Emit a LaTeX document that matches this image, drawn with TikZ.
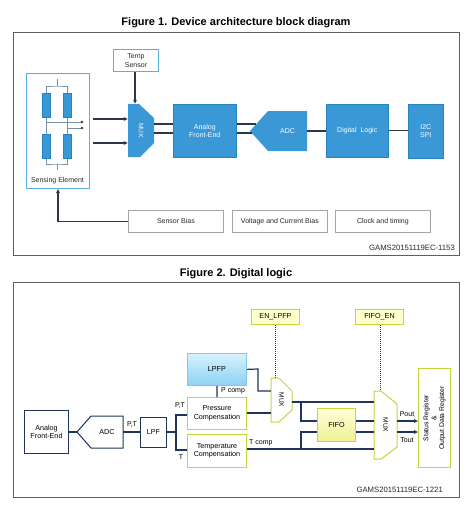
\documentclass[tikz,border=0pt]{standalone}
\usepackage{fontspec}
\setmainfont{Liberation Sans}
\usetikzlibrary{arrows.meta}
\definecolor{stblue}{RGB}{58,152,214}
\definecolor{stbluedk}{RGB}{40,130,190}
\definecolor{navy}{RGB}{31,52,90}
\definecolor{dline}{RGB}{45,55,72}
\definecolor{framec}{RGB}{95,95,95}
\definecolor{lgray}{RGB}{165,165,165}
\definecolor{tsb}{RGB}{90,175,225}
\definecolor{ygreen}{RGB}{196,214,60}
\definecolor{lyellow}{RGB}{255,255,204}
\definecolor{wirec}{RGB}{120,145,170}
\definecolor{txt}{RGB}{40,40,40}
\tikzset{
  x=1pt, y=-1pt,
  box/.style={anchor=north west, inner sep=0pt, align=center, font=\fontsize{7}{8.3}\selectfont, text=txt},
  titlet/.style={font=\bfseries\fontsize{11}{13}\selectfont},
  framebox/.style={box, draw=framec, line width=1pt},
  bluebox/.style={box, fill=stblue, draw=stbluedk, line width=0.5pt, text=white},
  outline/.style={box, draw=tsb, fill=white, line width=1pt},
  graybox/.style={box, draw=lgray, fill=white, line width=0.8pt},
  res/.style={box, fill=stblue, draw=stbluedk, line width=0.6pt},
  wire/.style={draw=wirec, line width=0.7pt},
  link1/.style={draw=dline, line width=1.3pt},
  arr1/.style={draw=dline, line width=1.1pt, -{Triangle[length=4pt,width=3.5pt]}},
  ybox/.style={box, draw=ygreen, fill=white, line width=1pt, text=black, font=\fontsize{7.2}{8.5}\selectfont},
  ylabel/.style={box, draw=ygreen, fill=lyellow, line width=1pt, text=black, font=\fontsize{7.2}{8.5}\selectfont},
  nbox/.style={box, draw=navy, fill=white, line width=1pt, text=black, font=\fontsize{7.2}{8.5}\selectfont},
  link2/.style={draw=navy, line width=1.2pt},
  arr2/.style={draw=navy, line width=1.2pt, -{Triangle[length=4pt,width=3.5pt]}},
  ctrl/.style={draw=navy, line width=1pt, densely dotted},
  lab/.style={inner sep=0pt, font=\fontsize{7}{8.3}\selectfont, text=black},
  muxt/.style={inner sep=0pt, rotate=-90, font=\fontsize{6.5}{7.5}\selectfont},
  code/.style={inner sep=0pt, anchor=east, font=\fontsize{7.7}{9}\selectfont, text=txt}
}
\begin{document}
\begin{tikzpicture}
\useasboundingbox (0,0) rectangle (474,515);
\fill[white] (0,0) rectangle (474,515);

% ================= Figure 1 =================
\node[titlet] (t1) at (236,23) {Figure 1. Device architecture block diagram};
\node[framebox, minimum width=446, minimum height=223] (f1) at (13,32) {};

\node[outline, minimum width=45, minimum height=22] (ts) at (113,49) {Temp\\Sensor};
\node[outline, minimum width=63, minimum height=115] (se) at (26,73) {};
\node[lab, text=txt] (selab) at (57.5,181) {Sensing Element};

% bridge
\node[res, minimum width=8, minimum height=24] (r1) at (42,93) {};
\node[res, minimum width=8, minimum height=24] (r2) at (63,93) {};
\node[res, minimum width=8, minimum height=24] (r3) at (42,134) {};
\node[res, minimum width=8, minimum height=24] (r4) at (63,134) {};
\coordinate (tp) at (57,86);
\coordinate (bp) at (57,164);
\coordinate (d1) at (82,122);
\coordinate (d2) at (82,128);
\draw[wire] (r1.north) |- (tp) -| (r2.north);
\draw[wire] (tp) -- ++(0,-7);
\draw[wire] (r3.south) |- (bp) -| (r4.south);
\draw[wire] (bp) -- ++(0,6);
\draw[wire] (r1.south) -- (r3.north);
\draw[wire] (r2.south) -- (r4.north);
\draw[wire] (r1.south |- d1) -- (d1);
\draw[wire] (r2.south |- d2) -- (d2);
\fill[dline] (d1) circle (1.3) (d2) circle (1.3);

% MUX 1
\fill[stblue] (128,104) -- (139,104) -- (154,118) -- (154,143) -- (140,157) -- (128,157) -- cycle;
\node[inner sep=0pt, minimum width=26, minimum height=53] (mux1) at (141,130.5) {};
\node[muxt, text=white] (mux1t) at (mux1.center) {MUX};

\coordinate (a1) at (93,119);
\coordinate (a2) at (93,143);
\draw[arr1] (a1) -- (mux1.west |- a1);
\draw[arr1] (a2) -- (mux1.west |- a2);
\draw[arr1] (ts.south -| 135,0) -- (mux1.north -| 135,0);

\node[bluebox, minimum width=63, minimum height=53] (afe1) at (173,104) {Analog\\Front-End};
\draw[link1] (mux1.east |- 0,124) -- (afe1.west |- 0,124);
\draw[link1] (mux1.east |- 0,133) -- (afe1.west |- 0,133);

% ADC 1
\fill[stblue] (250,131) -- (268,111) -- (307,111) -- (307,151) -- (268,151) -- cycle;
\node[inner sep=0pt, minimum width=39, minimum height=40, text=white, font=\fontsize{7}{8.3}\selectfont] (adc1) at (287.5,131) {ADC};
\draw[link1] (afe1.east |- 0,124) -- (256,124);
\draw[link1] (afe1.east |- 0,133) -- (252,133);

\node[bluebox, minimum width=62, minimum height=53] (dl) at (326,104) {Digital\ \ Logic};
\node[bluebox, minimum width=35, minimum height=54] (i2c) at (408,104) {I2C\\SPI};
\draw[link1] (adc1.east) -- (dl.west |- adc1.east);
\draw[link1] (dl.east) -- (i2c.west |- dl.east);

\node[graybox, minimum width=95, minimum height=22] (sb) at (128,210) {Sensor Bias};
\node[graybox, minimum width=95, minimum height=22] (vcb) at (232,210) {Voltage and Current Bias};
\node[graybox, minimum width=95, minimum height=22] (ct) at (335,210) {Clock and timing};
\draw[arr1] (sb.west) -| (se.south);

\node[code] (g1) at (455,248) {GAMS20151119EC-1153};

% ================= Figure 2 =================
\node[titlet] (t2) at (236,274) {Figure 2. Digital logic};
\node[framebox, minimum width=446, minimum height=215] (f2) at (13,282) {};

\node[ylabel, minimum width=48, minimum height=15] (enl) at (251,309) {EN\_LPFP};
\node[ylabel, minimum width=48, minimum height=15] (fen) at (355,309) {FIFO\_EN};

\node[box, minimum width=59, minimum height=32, draw={rgb,255:red,130;green,200;blue,235}, line width=0.8pt, font=\fontsize{7.2}{8.5}\selectfont,
      top color={rgb,255:red,215;green,242;blue,253}, bottom color={rgb,255:red,140;green,210;blue,242}, text=black] (lpfp) at (187,353) {LPFP};
\node[ybox, minimum width=59, minimum height=32] (pc) at (187,397) {Pressure\\Compensation};
\node[ybox, minimum width=59, minimum height=33] (tc) at (187,434) {Temperature\\Compensation};

% MUX 2
\draw[ygreen, fill=white, line width=1pt] (271,378) -- (279,378) -- (292,391) -- (292,410) -- (279,422) -- (271,422) -- cycle;
\node[inner sep=0pt, minimum width=21, minimum height=44] (mux2) at (281.5,400) {};
\node[muxt] (mux2t) at (mux2.center) {MUX};

% MUX 3
\draw[ygreen, fill=white, line width=1pt] (374,391) -- (381,391) -- (397,404) -- (397,447) -- (381,459) -- (374,459) -- cycle;
\node[inner sep=0pt, minimum width=23, minimum height=68] (mux3) at (385.5,425) {};
\node[muxt] (mux3t) at (mux3.center) {MUX};

\node[box, minimum width=38, minimum height=33, draw=ygreen, line width=1pt, font=\fontsize{7.2}{8.5}\selectfont,
      top color={rgb,255:red,255;green,255;blue,215}, bottom color={rgb,255:red,240;green,240;blue,150}, text=black] (fifo) at (317,408) {FIFO};

\node[ybox, minimum width=32, minimum height=99] (sr) at (418,368) {};
\node[inner sep=0pt, rotate=90, align=center, font=\fontsize{6.8}{7.8}\selectfont] (srt) at (sr.center) {Status Register\\\&\\Output Data Register};

\node[nbox, minimum width=44, minimum height=43] (afe2) at (24,410) {Analog\\Front-End};
\draw[navy, fill=white, line width=1pt] (77,432) -- (91,416) -- (123,416) -- (123,448) -- (91,448) -- cycle;
\node[inner sep=0pt, minimum width=32, minimum height=32, font=\fontsize{7.2}{8.5}\selectfont] (adc2) at (107,432) {ADC};
\coordinate (adc2tip) at (77,432);
\node[nbox, minimum width=26, minimum height=30] (lpf) at (140,417) {LPF};
\coordinate (sp) at (176,432);

% connectors fig 2
\draw[link2] (afe2.east |- adc2tip) -- (adc2tip);
\draw[link2] (adc2.east) -- (lpf.west |- adc2.east);
\node[lab] (lpt1) at (132,425) {P,T};
\draw[link2] (lpf.east |- sp) -- (sp);
\draw[link2] (pc.west |- 0,415) -| (sp |- 0,450) -- (tc.west |- 0,450);
\node[lab] (lpt2) at (180,406) {P,T};
\node[lab] (lt) at (181,457) {T};

\draw[link2] (lpfp.south) -- (pc.north);
\node[lab, anchor=west] (lpc) at (221,391) {P comp};
\draw[link2] (lpfp.east) -- (258,369) |- (mux2.west |- 0,391);
\draw[link2] (pc.east |- 0,413) -- (mux2.west |- 0,413);

\draw[link2] (mux2.east |- 0,402) -- (mux3.west |- 0,402);
\draw[link2] (301,402) |- (fifo.west |- 0,421);
\draw[link2] (fifo.east |- 0,421) -- (mux3.west |- 0,421);
\draw[link2] (fifo.east |- 0,432) -- (mux3.west |- 0,432);
\draw[link2] (tc.east |- 0,449) -- (mux3.west |- 0,449);
\draw[link2] (301,449) |- (fifo.west |- 0,432);
\node[lab, anchor=west] (ltc) at (249,443) {T comp};

\draw[arr2] (mux3.east |- 0,421) -- (sr.west |- 0,421);
\draw[arr2] (mux3.east |- 0,432) -- (sr.west |- 0,432);
\node[lab] (lpo) at (407,414) {Pout};
\node[lab] (lto) at (407,440) {Tout};

\draw[ctrl] (enl.south) -- (enl.south |- mux2.north);
\draw[ctrl] (fen.south -| 380,0) -- (380,391);

\node[code] (g2) at (443,490) {GAMS20151119EC-1221};
\end{tikzpicture}
\end{document}
